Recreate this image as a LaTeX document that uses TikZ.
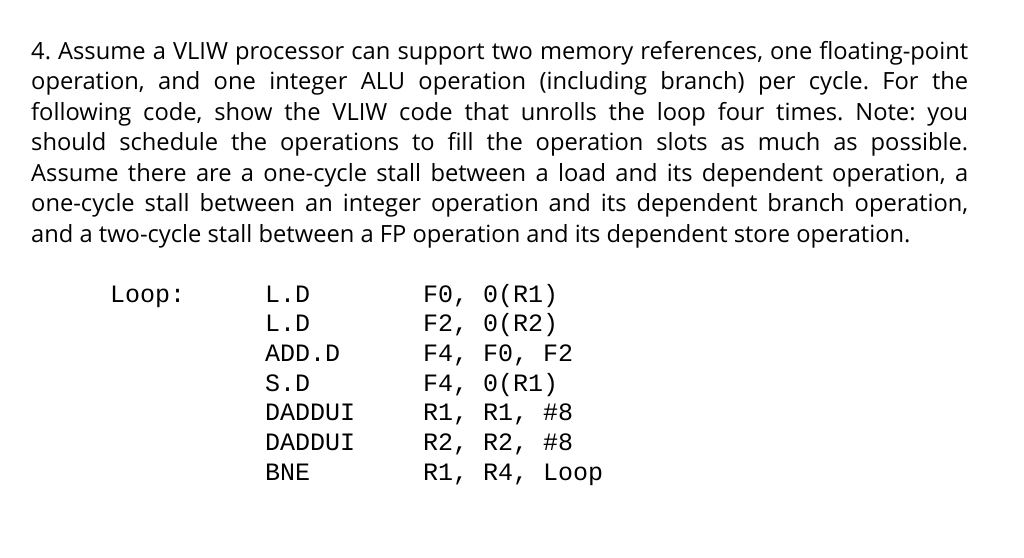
\documentclass[tikz,border=0pt]{standalone}
\usepackage{fontspec}
\setmainfont{Open Sans}
\newfontfamily\codefont{Liberation Mono}
\begin{document}
\frenchspacing
\begin{tikzpicture}[x=1pt,y=-1pt,
  para/.style={anchor=north west,inner sep=0pt,text width=937pt,align=justify,font=\fontsize{23.7}{30.5}\selectfont},
  code/.style={anchor=base west,inner sep=0pt,font=\codefont\fontsize{25}{30}\selectfont}]
\useasboundingbox[fill=white] (0,0) rectangle (1024,557);
\node[para] (p) at (31,41) {4. Assume a VLIW processor can support two memory references, one floating-point\linebreak operation, and one integer ALU operation (including branch) per cycle. For the\linebreak following code, show the VLIW code that unrolls the loop four times. Note: you\linebreak should schedule the operations to fill the operation slots as much as possible.\linebreak Assume there are a one-cycle stall between a load and its dependent operation, a\linebreak one-cycle stall between an integer operation and its dependent branch operation,\linebreak and a two-cycle stall between a FP operation and its dependent store operation.};
\node[code] (loop) at (110,302) {Loop:};
\foreach \i/\op/\args in {0/L.D/{F0, 0(R1)},1/L.D/{F2, 0(R2)},2/ADD.D/{F4, F0, F2},3/S.D/{F4, 0(R1)},4/DADDUI/{R1, R1, \#8},5/DADDUI/{R2, R2, \#8},6/BNE/{R1, R4, Loop}}{
  \node[code] (op\i) at (265,302+29.7*\i) {\op};
  \node[code] (ar\i) at (423,302+29.7*\i) {\args};
}
\end{tikzpicture}
\end{document}
